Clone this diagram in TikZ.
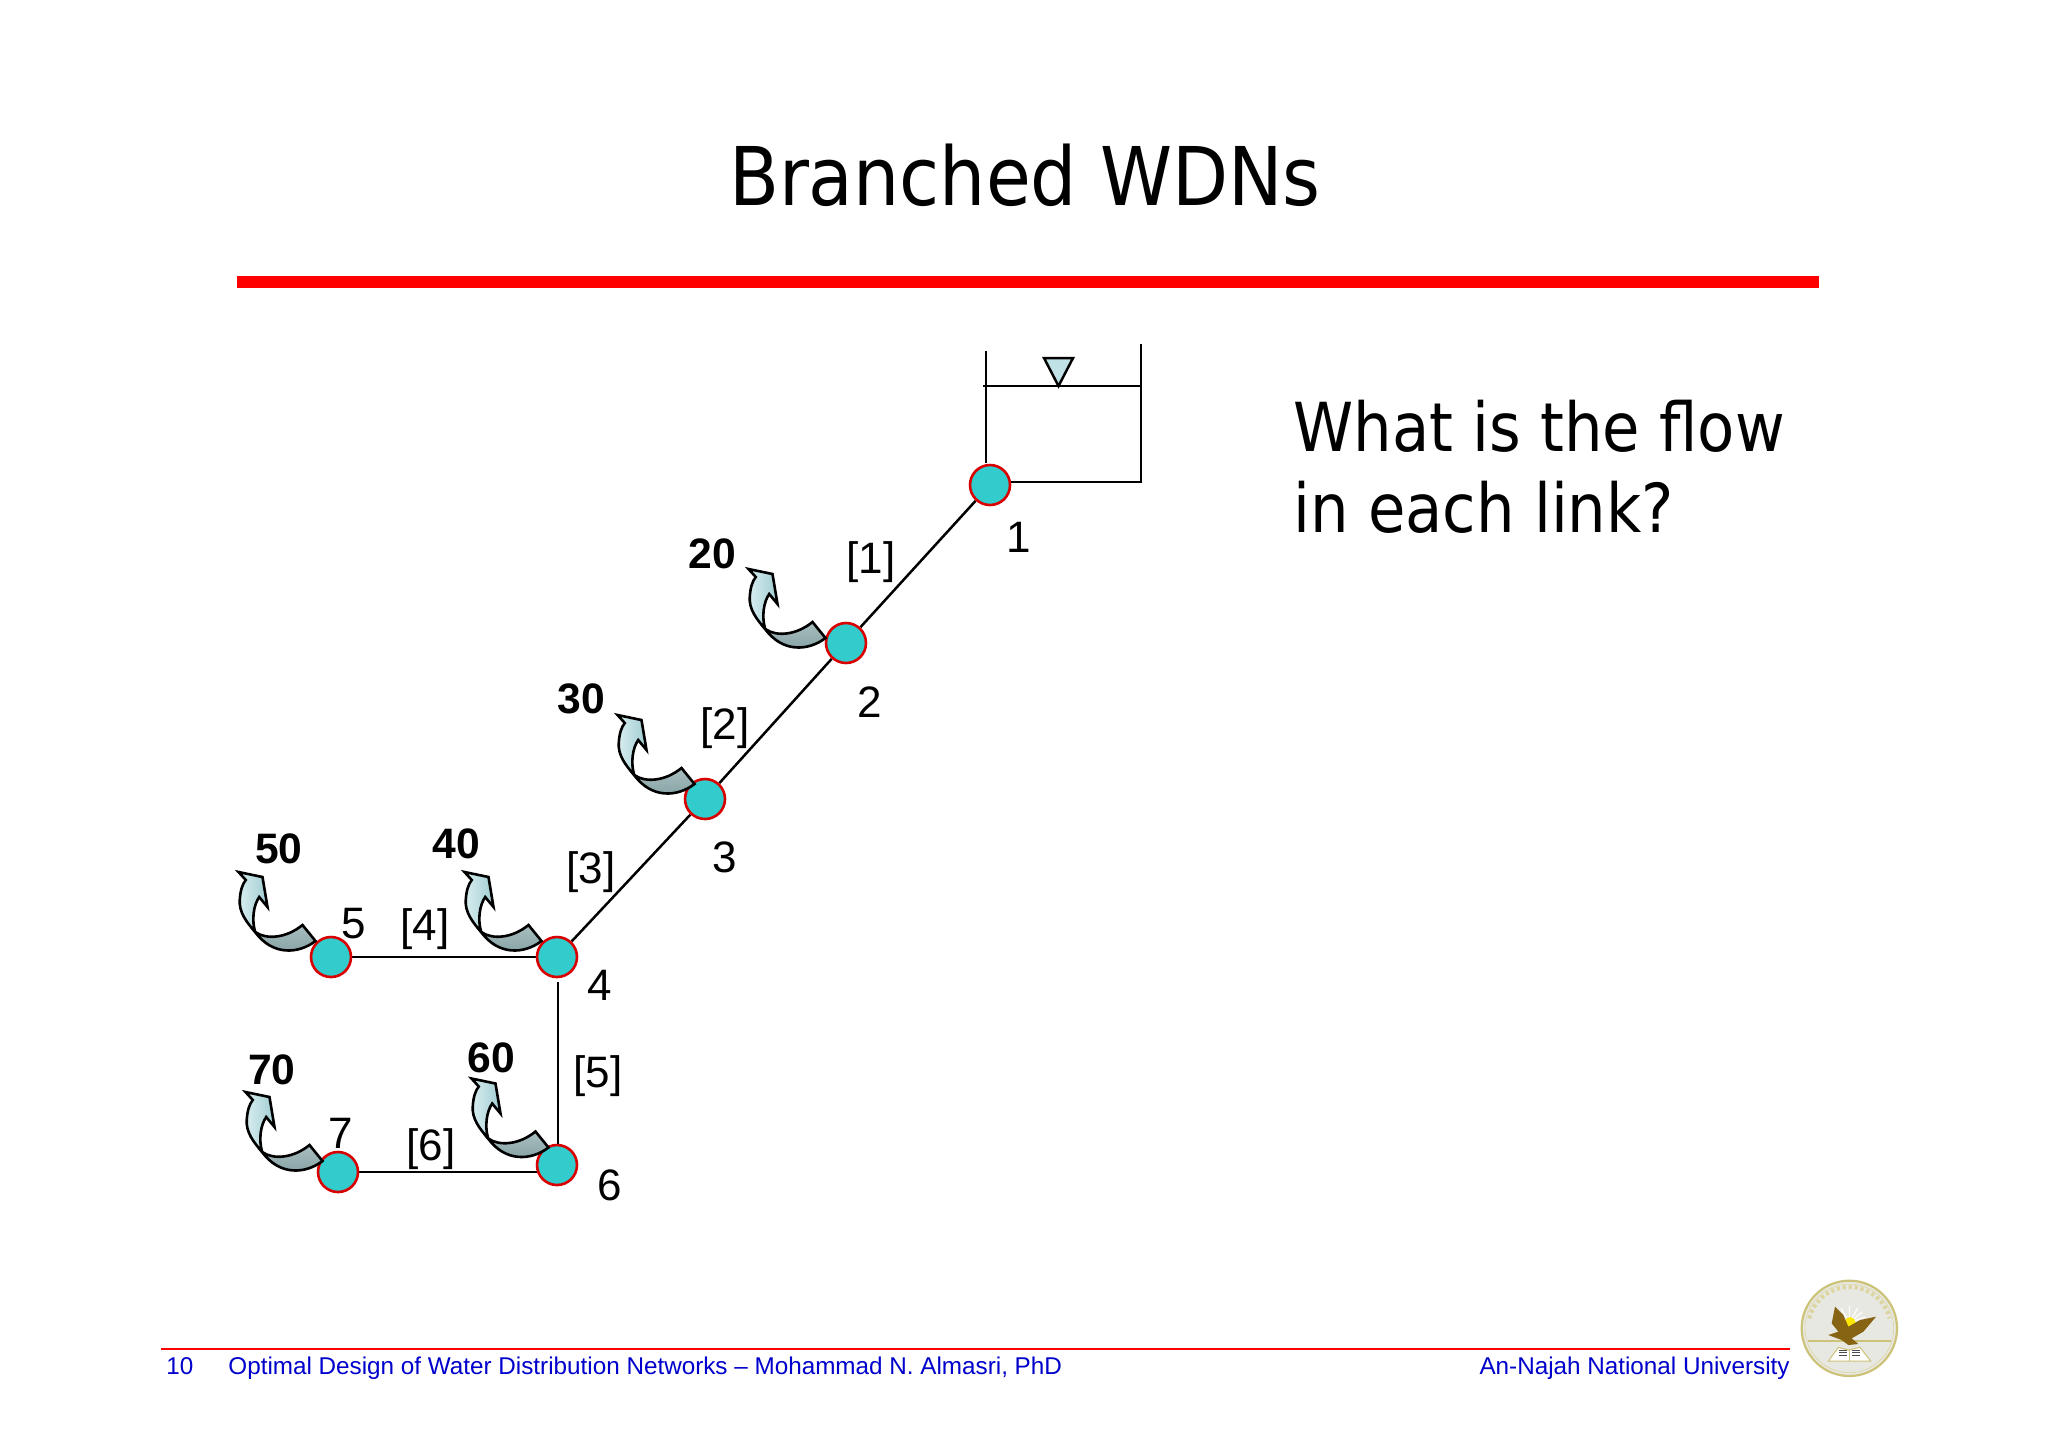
\documentclass[tikz,border=0pt]{standalone}
\usepackage{fontspec}
\setmainfont{Liberation Sans}
\newfontfamily\titlefont{DejaVu Sans Condensed}
\usetikzlibrary{backgrounds}
\definecolor{nodefill}{RGB}{51,204,204}
\definecolor{lightband}{RGB}{192,226,230}
\definecolor{lightbandb}{RGB}{160,205,210}
\definecolor{darkband}{RGB}{170,190,192}
\definecolor{darkbandb}{RGB}{130,160,162}
\definecolor{footblue}{RGB}{0,0,204}
\definecolor{sealline}{RGB}{205,195,120}
\definecolor{sealfill}{RGB}{232,232,226}
\definecolor{eagle}{RGB}{135,100,20}
\tikzset{
  junction/.style={circle,draw=red!85!black,line width=1.3pt,fill=nodefill,minimum size=20pt,inner sep=0pt},
  link/.style={line width=1.25pt,black},
  numlabel/.style={font=\fontsize{22}{24}\selectfont,inner sep=0pt},
  demand/.style={font=\fontsize{21.3}{24}\selectfont\bfseries,inner sep=0pt},
  footer/.style={font=\fontsize{12.13}{14}\selectfont,text=footblue,inner sep=0pt},
  bodytext/.style={font=\titlefont\fontsize{33.8}{41}\selectfont,inner sep=0pt,anchor=base west},
  outlet/.pic={
    \path[draw=black,line width=1.3pt,line join=miter,left color=lightband!60!white,right color=lightbandb]
      (0,0) -- (24,5) -- (29,35) -- (20.7,25) .. controls (15,33) and (13,48) .. (16.7,60)
      .. controls (8,50) and (0,40) .. (1.3,27) .. controls (2,18) and (4,12) .. (7.3,8) -- cycle;
    \path[draw=black,line width=1.3pt,line join=miter,top color=darkband,bottom color=darkbandb]
      (16.7,60) .. controls (28,68) and (48,66) .. (64,53) -- (77,69)
      .. controls (60,82) and (34,84) .. (16.7,60) -- cycle;
  }
}
\begin{document}
\begin{tikzpicture}[x=0.5pt,y=-0.5pt]
\useasboundingbox (0,0) rectangle (2048,1447);
\begin{scope}[on background layer]
\fill[white] (0,0) rectangle (2048,1447);
\end{scope}

% title
\node[font=\titlefont\fontsize{40.5}{46}\selectfont,inner sep=0pt] (title) at (1025,175) {Branched WDNs};
\coordinate (ruleL) at (237,282);
\coordinate (ruleR) at (1819,282);
\draw[red,line width=6pt] (ruleL) -- (ruleR);

% junctions
\node[junction] (n1) at (990,485) {};
\node[junction] (n2) at (846,643) {};
\node[junction] (n3) at (705,799) {};
\node[junction] (n4) at (557,957) {};
\node[junction] (n5) at (331,957) {};
\node[junction] (n6) at (557,1165) {};
\node[junction] (n7) at (338,1172) {};

% tank
\coordinate (tankTL) at (986,351);
\coordinate (tankBL) at (986,463);
\coordinate (tankTR) at (1141,344);
\coordinate (tankBR) at (1141,482);
\coordinate (waterL) at (983,386);
\coordinate (waterR) at (1141,386);
\draw[link] (tankTL) -- (tankBL);
\draw[link] (tankTR) -- (tankBR) -- (n1.east |- tankBR);
\draw[link] (waterL) -- (waterR);
\coordinate (lvlA) at (1044,358);
\coordinate (lvlB) at (1073,358);
\coordinate (lvlC) at (1058.5,386);
\draw[line width=1.25pt,fill=lightband] (lvlA) -- (lvlB) -- (lvlC) -- cycle;

% links
\begin{scope}[on background layer]
\draw[link] (n1) -- (n2);
\draw[link] (n2) -- (n3);
\draw[link] (n3) -- (n4);
\draw[link] (n4) -- (n5);
\draw[link] (n7) -- (n7 -| n6);
\end{scope}
\coordinate (n4below) at (558,982);
\draw[link] (n4below) -- (n4below |- n6.north);

% outlet arrows
\pic at (748.5,569) {outlet};
\pic at (617.5,715) {outlet};
\pic at (464.5,872) {outlet};
\pic at (238.5,872) {outlet};
\pic at (471.5,1078.5) {outlet};
\pic at (245.5,1092) {outlet};

% node numbers
\node[numlabel] (t1) at (1019,537) {1};
\node[numlabel] (t2) at (870,702) {2};
\node[numlabel] (t3) at (725,857) {3};
\node[numlabel] (t4) at (599.5,985) {4};
\node[numlabel] (t5) at (353.5,924) {5};
\node[numlabel] (t6) at (610,1185) {6};
\node[numlabel] (t7) at (341,1133) {7};
% link labels
\node[numlabel] (l1) at (871,562) {[1]};
\node[numlabel] (l2) at (725,728) {[2]};
\node[numlabel] (l3) at (591,872) {[3]};
\node[numlabel] (l4) at (425,929) {[4]};
\node[numlabel] (l5) at (598,1076) {[5]};
\node[numlabel] (l6) at (431,1149) {[6]};
% demands
\node[demand] (d20) at (712,554) {20};
\node[demand] (d30) at (581,699) {30};
\node[demand] (d40) at (456.5,844) {40};
\node[demand] (d50) at (279,849) {50};
\node[demand] (d60) at (491,1058) {60};
\node[demand] (d70) at (272,1070) {70};

% question
\node[bodytext] (q1) at (1293,451) {What is the flow};
\node[bodytext] (q2) at (1293,532) {in each link?};

% footer
\coordinate (footL) at (161,1349);
\coordinate (footR) at (1790,1349);
\draw[red,line width=1pt] (footL) -- (footR);
\node[footer,anchor=base west] (f1) at (166,1374) {10};
\node[footer,anchor=base west] (f2) at (228,1374) {Optimal Design of Water Distribution Networks – Mohammad N. Almasri, PhD};
\node[footer,anchor=base east] (f3) at (1790,1374) {An-Najah National University};

% seal
\begin{scope}[shift={(1780,1260)},x=0.16667pt,y=-0.16667pt]
\fill[sealfill] (208,205) circle[radius=143];
\draw[sealline,line width=1.1pt] (208,205) circle[radius=143];
\draw[sealline!70!white,line width=0.3pt] (208,205) circle[radius=133];
\draw[sealline!70!white,line width=2pt,dash pattern=on 1.6pt off 1.4pt] (88,175) arc[start angle=194,end angle=346,radius=124];
\foreach \a in {200,220,240,270,300,320,340}
  \draw[white,line width=0.6pt] (208,188) -- ++(\a:50);
\draw[sealline,line width=0.8pt] (84,243) -- (332,243);
\fill[yellow!90!orange] (210,188) circle[radius=17];
\fill[eagle] (165,140) -- (155,190) -- (175,215) -- (145,225) -- (185,240) -- (205,255)
  -- (235,252) -- (215,235) -- (250,215) -- (288,170) -- (240,180) -- (205,200) -- (190,165) -- cycle;
\filldraw[draw=sealline,fill=white,line width=0.5pt] (145,303) -- (175,262) -- (205,270) -- (240,262) -- (272,303) -- (208,303) -- cycle;
\foreach \v in {270,278,286}{
  \draw[black!70,line width=0.5pt] (178,\v) -- (200,\v);
  \draw[black!70,line width=0.5pt] (216,\v) -- (240,\v);
}
\draw[sealline,line width=0.8pt] (208,270) -- (208,303);
\end{scope}
\end{tikzpicture}
\end{document}
